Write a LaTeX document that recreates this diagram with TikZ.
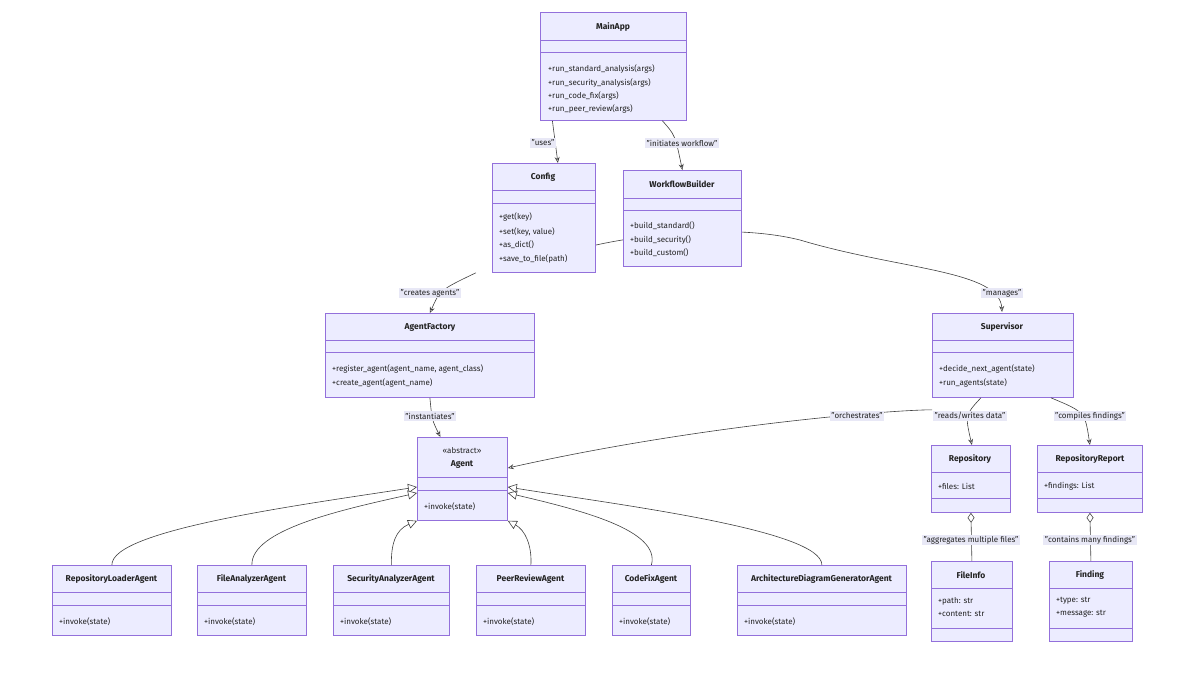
\documentclass[tikz,border=0pt]{standalone}
\usepackage{fontspec}
\setmainfont{Fira Sans}
\usetikzlibrary{arrows.meta}
\definecolor{clsfill}{HTML}{ECECFF}
\definecolor{clsline}{HTML}{9370DB}
\definecolor{lblfill}{HTML}{E8E8F6}
\definecolor{txt}{HTML}{222222}
\tikzset{
  cls/.style={draw=clsline, fill=clsfill, line width=0.8pt, inner sep=0pt, anchor=north west},
  ttl/.style={font=\fontsize{8.5}{9}\selectfont\bfseries, text=txt, inner sep=0pt},
  mem/.style={font=\fontsize{8}{9}\selectfont, text=txt, inner sep=0pt, anchor=west},
  lbl/.style={font=\fontsize{8}{9}\selectfont, text=txt, fill=lblfill, inner sep=1.5pt},
  rel/.style={draw=black!75, line width=0.6pt},
  dep/.style={rel, -{Stealth[length=6pt,width=5pt,open]}},
  inh/.style={rel, -{Triangle[open,length=9pt,width=9pt,fill=white]}},
  agg/.style={rel, {Diamond[open,length=10pt,width=7pt,fill=white]}-},
}
% class box: name, left, top, right, bottom, divider1, divider2
\newcommand{\umlbox}[7]{%
  \node[cls, minimum width=#4-#2, minimum height=#5-#3] (#1) at (#2,#3) {};
  \draw[clsline, line width=0.8pt] (#2,#6) -- (#4,#6) (#2,#7) -- (#4,#7);}
\begin{document}
\begin{tikzpicture}[x=1pt, y=-1pt]
\useasboundingbox (0,0) rectangle (1200,674);

%% connectors behind boxes
\draw[dep] (560,255) .. controls (600,240) and (720,220) .. (800,240)
  .. controls (900,270) and (1000,270) .. (1002,312);

\umlbox{mainapp}{540}{12}{686}{120}{40}{52}
\node[ttl] at (613,27) {MainApp};
\node[mem] at (548,69) {+run\_standard\_analysis(args)};
\node[mem] at (548,83) {+run\_security\_analysis(args)};
\node[mem] at (548,96) {+run\_code\_fix(args)};
\node[mem] at (548,109) {+run\_peer\_review(args)};

\umlbox{config}{492}{163}{595}{272}{190}{203}
\node[ttl] at (543,177) {Config};
\node[mem] at (499,217) {+get(key)};
\node[mem] at (499,232) {+set(key, value)};
\node[mem] at (499,245) {+as\_dict()};
\node[mem] at (499,259) {+save\_to\_file(path)};

\umlbox{workflow}{623}{170}{741}{266}{198}{210}
\node[ttl] at (682,184) {WorkflowBuilder};
\node[mem] at (630,226) {+build\_standard()};
\node[mem] at (630,240) {+build\_security()};
\node[mem] at (630,253) {+build\_custom()};

\umlbox{factory}{325}{313}{534}{397}{340}{352}
\node[ttl] at (430,327) {AgentFactory};
\node[mem] at (332,369) {+register\_agent(agent\_name, agent\_class)};
\node[mem] at (332,383) {+create\_agent(agent\_name)};

\umlbox{supervisor}{932}{313}{1073}{397}{340}{352}
\node[ttl] at (1002,327) {Supervisor};
\node[mem] at (939,369) {+decide\_next\_agent(state)};
\node[mem] at (939,383) {+run\_agents(state)};

\umlbox{agent}{417}{437}{507}{520}{477}{490}
\node[mem, anchor=center] at (462,451) {«abstract»};
\node[ttl] at (462,464) {Agent};
\node[mem] at (424,507) {+invoke(state)};

\umlbox{repo}{931}{445}{1010}{512}{472}{498}
\node[ttl] at (970,459) {Repository};
\node[mem] at (938,486) {+files: List};

\umlbox{report}{1037}{445}{1142}{512}{472}{498}
\node[ttl] at (1090,459) {RepositoryReport};
\node[mem] at (1044,486) {+findings: List};

\umlbox{fileinfo}{931}{561}{1012}{641}{588}{628}
\node[ttl] at (971,575) {FileInfo};
\node[mem] at (938,601) {+path: str};
\node[mem] at (938,614) {+content: str};

\umlbox{finding}{1049}{561}{1132}{641}{588}{628}
\node[ttl] at (1090,575) {Finding};
\node[mem] at (1056,601) {+type: str};
\node[mem] at (1056,614) {+message: str};

%% concrete agents
\foreach \n/\l/\r/\t in {loader/52/171/RepositoryLoaderAgent,
    fileana/197/306/FileAnalyzerAgent, secana/333/449/SecurityAnalyzerAgent,
    peer/476/585/PeerReviewAgent, codefix/612/690/CodeFixAgent,
    archdiag/737/906/ArchitectureDiagramGeneratorAgent}{
  \umlbox{\n}{\l}{565}{\r}{635}{592}{605}
  \node[ttl] at ({(\l+\r)/2},579) {\t};
  \node[mem] at (\l+7,622) {+invoke(state)};
}

%% relations
\draw[dep] ([xshift=-61pt]mainapp.south) -- ([xshift=14pt]config.north);
\node[lbl] at (543,143) {"uses"};
\draw[dep] ([xshift=49pt]mainapp.south) .. controls (675,135) .. (workflow.north);
\node[lbl] at (682,143) {"initiates workflow"};
\node[lbl] at (1002,293) {"manages"};
\draw[dep] ([xshift=-68pt]config.south) .. controls (440,290) .. (factory.north);
\node[lbl] at (430,293) {"creates agents"};
\draw[dep] (factory.south) .. controls (432,420) .. ([xshift=-22pt]agent.north);
\node[lbl] at (430,416) {"instantiates"};
\draw[dep] ([yshift=-12pt]supervisor.south west) .. controls (890,410) and (700,425) .. ([yshift=-31pt]agent.north east);
\node[lbl] at (857,416) {"orchestrates"};
\draw[dep] ([xshift=-22pt]supervisor.south) .. controls (965,415) .. ([xshift=1pt]repo.north);
\node[lbl] at (970,416) {"reads/writes data"};
\draw[dep] ([xshift=48pt]supervisor.south) .. controls (1085,412) .. (report.north);
\node[lbl] at (1090,416) {"compiles findings"};
\draw[agg] (repo.south) -- (fileinfo.north);
\node[lbl] at (971,540) {"aggregates multiple files"};
\draw[agg] (report.south) -- (finding.north);
\node[lbl] at (1090,540) {"contains many findings"};

\draw[inh] (loader.north) .. controls (111,530) and (300,505) .. ([yshift=-50pt]agent.north west);
\draw[inh] (fileana.north) .. controls (251,530) and (340,510) .. ([yshift=-56pt]agent.north west);
\draw[inh] (secana.north) .. controls (391,545) and (395,530) .. (agent.south west);
\draw[inh] (peer.north) .. controls (532,545) and (525,530) .. (agent.south east);
\draw[inh] (codefix.north) .. controls (661,530) and (580,510) .. ([yshift=-56pt]agent.north east);
\draw[inh] (archdiag.north) .. controls (822,530) and (620,505) .. ([yshift=-50pt]agent.north east);
\end{tikzpicture}
\end{document}
